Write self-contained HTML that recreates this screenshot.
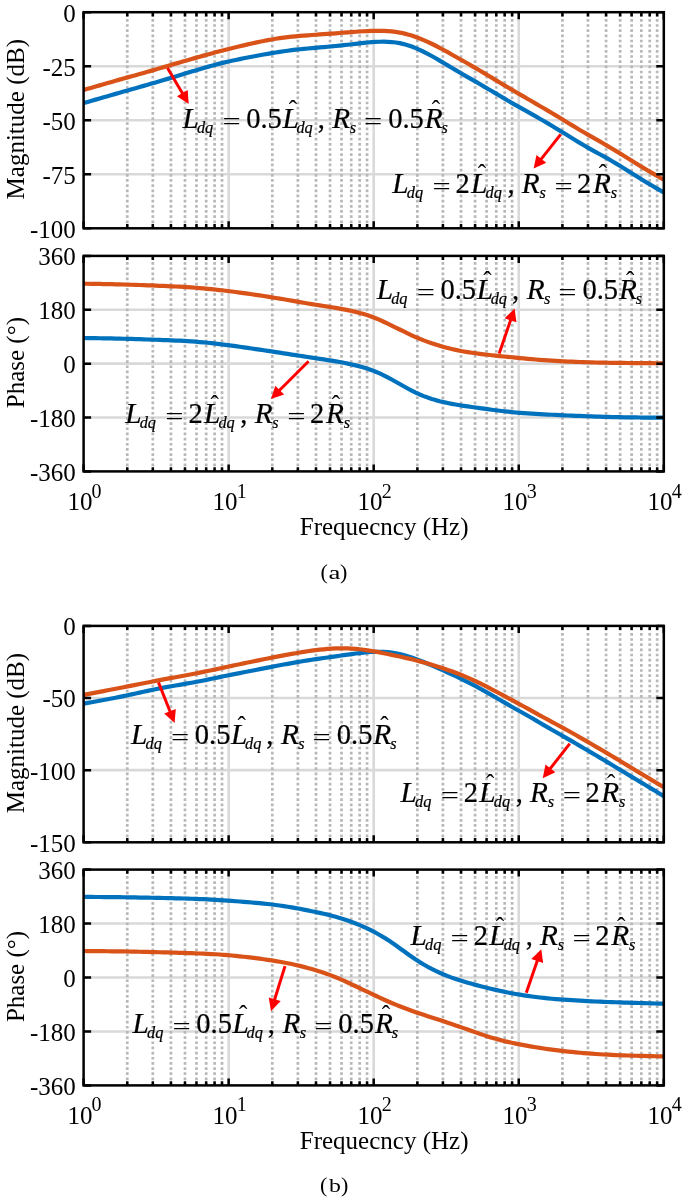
<!DOCTYPE html>
<html><head><meta charset="utf-8"><title>Bode plots</title>
<style>html,body{margin:0;padding:0;background:#fff;}body{width:685px;height:1201px;overflow:hidden;}svg{display:block;}</style>
</head><body>
<svg width="685" height="1201" viewBox="0 0 685 1201">
<rect width="685" height="1201" fill="#fff"/>
<path d="M228.65 12.20V228.30M373.70 12.20V228.30M518.75 12.20V228.30M83.60 66.23H663.80M83.60 120.25H663.80M83.60 174.28H663.80" stroke="#d9d9d9" stroke-width="2.60" fill="none"/>
<path d="M127.26 228.30V12.20M152.81 228.30V12.20M170.93 228.30V12.20M184.99 228.30V12.20M196.47 228.30V12.20M206.18 228.30V12.20M214.59 228.30V12.20M222.01 228.30V12.20M272.31 228.30V12.20M297.86 228.30V12.20M315.98 228.30V12.20M330.04 228.30V12.20M341.52 228.30V12.20M351.23 228.30V12.20M359.64 228.30V12.20M367.06 228.30V12.20M417.36 228.30V12.20M442.91 228.30V12.20M461.03 228.30V12.20M475.09 228.30V12.20M486.57 228.30V12.20M496.28 228.30V12.20M504.69 228.30V12.20M512.11 228.30V12.20M562.41 228.30V12.20M587.96 228.30V12.20M606.08 228.30V12.20M620.14 228.30V12.20M631.62 228.30V12.20M641.33 228.30V12.20M649.74 228.30V12.20M657.16 228.30V12.20" stroke="#b8b8b8" stroke-width="2.70" stroke-dasharray="2.7 2.465" stroke-dashoffset="0.00" fill="none"/>
<path d="M228.65 255.90V471.40M373.70 255.90V471.40M518.75 255.90V471.40M83.60 309.77H663.80M83.60 363.65H663.80M83.60 417.52H663.80" stroke="#d9d9d9" stroke-width="2.60" fill="none"/>
<path d="M127.26 471.40V255.90M152.81 471.40V255.90M170.93 471.40V255.90M184.99 471.40V255.90M196.47 471.40V255.90M206.18 471.40V255.90M214.59 471.40V255.90M222.01 471.40V255.90M272.31 471.40V255.90M297.86 471.40V255.90M315.98 471.40V255.90M330.04 471.40V255.90M341.52 471.40V255.90M351.23 471.40V255.90M359.64 471.40V255.90M367.06 471.40V255.90M417.36 471.40V255.90M442.91 471.40V255.90M461.03 471.40V255.90M475.09 471.40V255.90M486.57 471.40V255.90M496.28 471.40V255.90M504.69 471.40V255.90M512.11 471.40V255.90M562.41 471.40V255.90M587.96 471.40V255.90M606.08 471.40V255.90M620.14 471.40V255.90M631.62 471.40V255.90M641.33 471.40V255.90M649.74 471.40V255.90M657.16 471.40V255.90" stroke="#b8b8b8" stroke-width="2.70" stroke-dasharray="2.7 2.465" stroke-dashoffset="0.00" fill="none"/>
<path d="M228.65 625.90V842.30M373.70 625.90V842.30M518.75 625.90V842.30M83.60 698.03H663.80M83.60 770.17H663.80" stroke="#d9d9d9" stroke-width="2.60" fill="none"/>
<path d="M127.26 842.30V625.90M152.81 842.30V625.90M170.93 842.30V625.90M184.99 842.30V625.90M196.47 842.30V625.90M206.18 842.30V625.90M214.59 842.30V625.90M222.01 842.30V625.90M272.31 842.30V625.90M297.86 842.30V625.90M315.98 842.30V625.90M330.04 842.30V625.90M341.52 842.30V625.90M351.23 842.30V625.90M359.64 842.30V625.90M367.06 842.30V625.90M417.36 842.30V625.90M442.91 842.30V625.90M461.03 842.30V625.90M475.09 842.30V625.90M486.57 842.30V625.90M496.28 842.30V625.90M504.69 842.30V625.90M512.11 842.30V625.90M562.41 842.30V625.90M587.96 842.30V625.90M606.08 842.30V625.90M620.14 842.30V625.90M631.62 842.30V625.90M641.33 842.30V625.90M649.74 842.30V625.90M657.16 842.30V625.90" stroke="#b8b8b8" stroke-width="2.70" stroke-dasharray="2.7 2.465" stroke-dashoffset="0.00" fill="none"/>
<path d="M228.65 869.60V1085.40M373.70 869.60V1085.40M518.75 869.60V1085.40M83.60 923.55H663.80M83.60 977.50H663.80M83.60 1031.45H663.80" stroke="#d9d9d9" stroke-width="2.60" fill="none"/>
<path d="M127.26 1085.40V869.60M152.81 1085.40V869.60M170.93 1085.40V869.60M184.99 1085.40V869.60M196.47 1085.40V869.60M206.18 1085.40V869.60M214.59 1085.40V869.60M222.01 1085.40V869.60M272.31 1085.40V869.60M297.86 1085.40V869.60M315.98 1085.40V869.60M330.04 1085.40V869.60M341.52 1085.40V869.60M351.23 1085.40V869.60M359.64 1085.40V869.60M367.06 1085.40V869.60M417.36 1085.40V869.60M442.91 1085.40V869.60M461.03 1085.40V869.60M475.09 1085.40V869.60M486.57 1085.40V869.60M496.28 1085.40V869.60M504.69 1085.40V869.60M512.11 1085.40V869.60M562.41 1085.40V869.60M587.96 1085.40V869.60M606.08 1085.40V869.60M620.14 1085.40V869.60M631.62 1085.40V869.60M641.33 1085.40V869.60M649.74 1085.40V869.60M657.16 1085.40V869.60" stroke="#b8b8b8" stroke-width="2.70" stroke-dasharray="2.7 2.465" stroke-dashoffset="0.00" fill="none"/>
<g fill="none" stroke-width="4.20" stroke-linejoin="round">
<path d="M83.6 103.10 87.6 101.94 91.6 100.79 95.6 99.63 99.6 98.48 103.6 97.32 107.6 96.17 111.6 95.02 115.6 93.87 119.6 92.73 123.6 91.58 127.6 90.44 131.6 89.30 135.6 88.16 139.6 87.03 143.6 85.88 147.6 84.74 151.6 83.59 155.6 82.43 159.6 81.25 163.6 80.07 167.6 78.87 171.6 77.66 175.6 76.45 179.6 75.24 183.6 74.03 187.6 72.82 191.6 71.61 195.6 70.40 199.6 69.21 203.6 68.04 207.6 66.89 211.6 65.77 215.6 64.68 219.6 63.63 223.6 62.63 227.6 61.68 231.7 60.79 235.7 59.93 239.7 59.08 243.7 58.25 247.7 57.45 251.7 56.69 255.7 55.94 259.7 55.22 263.7 54.52 267.7 53.84 271.7 53.17 275.7 52.52 279.7 51.89 283.7 51.29 287.7 50.71 291.7 50.17 295.7 49.68 299.7 49.24 303.7 48.84 307.7 48.48 311.7 48.13 315.7 47.79 319.7 47.46 323.7 47.13 327.7 46.78 331.7 46.42 335.7 46.02 339.7 45.61 343.7 45.17 347.7 44.72 351.7 44.26 355.7 43.80 359.7 43.34 363.7 42.91 367.7 42.52 371.7 42.19 375.7 41.93 379.7 41.76 383.7 41.70 387.7 41.78 391.7 42.03 395.7 42.49 399.7 43.17 403.7 44.08 407.7 45.21 411.7 46.56 415.7 48.11 419.7 49.85 423.7 51.76 427.7 53.82 431.7 55.99 435.7 58.26 439.7 60.60 443.7 62.98 447.7 65.38 451.7 67.78 455.7 70.17 459.7 72.51 463.7 74.82 467.7 77.11 471.7 79.39 475.7 81.68 479.7 84.00 483.7 86.34 487.7 88.70 491.7 91.06 495.7 93.43 499.7 95.79 503.7 98.15 507.7 100.49 511.7 102.81 515.7 105.11 519.8 107.38 523.8 109.63 527.8 111.87 531.8 114.13 535.8 116.42 539.8 118.72 543.8 121.06 547.8 123.41 551.8 125.79 555.8 128.20 559.8 130.62 563.8 133.07 567.8 135.54 571.8 138.00 575.8 140.46 579.8 142.88 583.8 145.26 587.8 147.58 591.8 149.83 595.8 152.04 599.8 154.23 603.8 156.45 607.8 158.70 611.8 160.99 615.8 163.33 619.8 165.73 623.8 168.21 627.8 170.72 631.8 173.26 635.8 175.80 639.8 178.30 643.8 180.75 647.8 183.15 651.8 185.51 655.8 187.84 659.8 190.16 663.8 192.46" stroke="#0072BD"/>
<path d="M83.6 89.99 87.6 88.83 91.6 87.67 95.6 86.52 99.6 85.36 103.6 84.21 107.6 83.06 111.6 81.92 115.6 80.78 119.6 79.64 123.6 78.51 127.6 77.39 131.6 76.27 135.6 75.16 139.6 74.05 143.6 72.92 147.6 71.79 151.6 70.64 155.6 69.48 159.6 68.30 163.6 67.13 167.6 65.96 171.6 64.79 175.6 63.62 179.6 62.46 183.6 61.31 187.6 60.16 191.6 59.02 195.6 57.88 199.6 56.75 203.6 55.63 207.6 54.51 211.6 53.41 215.6 52.32 219.6 51.24 223.6 50.19 227.6 49.17 231.7 48.19 235.7 47.23 239.7 46.28 243.7 45.34 247.7 44.41 251.7 43.49 255.7 42.61 259.7 41.75 263.7 40.94 267.7 40.17 271.7 39.45 275.7 38.79 279.7 38.19 283.7 37.64 287.7 37.14 291.7 36.69 295.7 36.29 299.7 35.94 303.7 35.62 307.7 35.32 311.7 35.03 315.7 34.74 319.7 34.46 323.7 34.18 327.7 33.90 331.7 33.61 335.7 33.30 339.7 32.99 343.7 32.68 347.7 32.36 351.7 32.05 355.7 31.76 359.7 31.48 363.7 31.23 367.7 31.03 371.7 30.89 375.7 30.81 379.7 30.80 383.7 30.88 387.7 31.08 391.7 31.41 395.7 31.90 399.7 32.56 403.7 33.40 407.7 34.42 411.7 35.61 415.7 36.96 419.7 38.46 423.7 40.10 427.7 41.87 431.7 43.76 435.7 45.75 439.7 47.83 443.7 49.98 447.7 52.20 451.7 54.46 455.7 56.74 459.7 59.01 463.7 61.28 467.7 63.54 471.7 65.81 475.7 68.12 479.7 70.47 483.7 72.85 487.7 75.25 491.7 77.67 495.7 80.08 499.7 82.49 503.7 84.88 507.7 87.26 511.7 89.62 515.7 91.97 519.8 94.31 523.8 96.65 527.8 98.97 531.8 101.29 535.8 103.62 539.8 105.95 543.8 108.30 547.8 110.66 551.8 113.03 555.8 115.42 559.8 117.82 563.8 120.24 567.8 122.68 571.8 125.11 575.8 127.54 579.8 129.94 583.8 132.31 587.8 134.63 591.8 136.91 595.8 139.15 599.8 141.42 603.8 143.73 607.8 146.09 611.8 148.47 615.8 150.87 619.8 153.31 623.8 155.79 627.8 158.29 631.8 160.79 635.8 163.28 639.8 165.74 643.8 168.16 647.8 170.52 651.8 172.86 655.8 175.17 659.8 177.46 663.8 179.74" stroke="#D95319"/>
<path d="M83.6 337.99 87.6 338.05 91.6 338.11 95.6 338.17 99.6 338.24 103.6 338.31 107.6 338.38 111.6 338.46 115.6 338.54 119.6 338.63 123.6 338.73 127.6 338.84 131.6 338.95 135.6 339.07 139.6 339.20 143.6 339.34 147.6 339.48 151.6 339.62 155.6 339.77 159.6 339.92 163.6 340.07 167.6 340.22 171.6 340.38 175.6 340.54 179.6 340.72 183.6 340.93 187.6 341.16 191.6 341.42 195.6 341.71 199.6 342.04 203.6 342.39 207.6 342.78 211.6 343.19 215.6 343.64 219.6 344.10 223.6 344.59 227.6 345.10 231.7 345.63 235.7 346.18 239.7 346.75 243.7 347.32 247.7 347.89 251.7 348.47 255.7 349.06 259.7 349.65 263.7 350.24 267.7 350.84 271.7 351.45 275.7 352.06 279.7 352.68 283.7 353.30 287.7 353.93 291.7 354.55 295.7 355.17 299.7 355.78 303.7 356.39 307.7 357.00 311.7 357.61 315.7 358.22 319.7 358.82 323.7 359.43 327.7 360.05 331.7 360.68 335.7 361.35 339.7 362.05 343.7 362.80 347.7 363.60 351.7 364.45 355.7 365.38 359.7 366.40 363.7 367.52 367.7 368.77 371.7 370.16 375.7 371.71 379.7 373.42 383.7 375.30 387.7 377.34 391.7 379.50 395.7 381.74 399.7 384.02 403.7 386.29 407.7 388.50 411.7 390.63 415.7 392.63 419.7 394.46 423.7 396.11 427.7 397.59 431.7 398.92 435.7 400.11 439.7 401.18 443.7 402.15 447.7 403.02 451.7 403.82 455.7 404.54 459.7 405.20 463.7 405.81 467.7 406.40 471.7 406.96 475.7 407.51 479.7 408.08 483.7 408.64 487.7 409.20 491.7 409.74 495.7 410.27 499.7 410.77 503.7 411.25 507.7 411.70 511.7 412.11 515.7 412.49 519.8 412.84 523.8 413.14 527.8 413.42 531.8 413.67 535.8 413.91 539.8 414.14 543.8 414.35 547.8 414.56 551.8 414.77 555.8 414.96 559.8 415.14 563.8 415.31 567.8 415.48 571.8 415.63 575.8 415.78 579.8 415.93 583.8 416.08 587.8 416.23 591.8 416.38 595.8 416.53 599.8 416.68 603.8 416.81 607.8 416.92 611.8 417.03 615.8 417.12 619.8 417.21 623.8 417.28 627.8 417.35 631.8 417.41 635.8 417.46 639.8 417.51 643.8 417.55 647.8 417.59 651.8 417.62 655.8 417.65 659.8 417.68 663.8 417.71" stroke="#0072BD"/>
<path d="M83.6 283.69 87.6 283.76 91.6 283.83 95.6 283.90 99.6 283.97 103.6 284.05 107.6 284.13 111.6 284.22 115.6 284.31 119.6 284.41 123.6 284.51 127.6 284.62 131.6 284.74 135.6 284.87 139.6 285.00 143.6 285.15 147.6 285.30 151.6 285.46 155.6 285.63 159.6 285.80 163.6 285.97 167.6 286.14 171.6 286.32 175.6 286.50 179.6 286.70 183.6 286.93 187.6 287.18 191.6 287.45 195.6 287.76 199.6 288.08 203.6 288.44 207.6 288.81 211.6 289.21 215.6 289.62 219.6 290.06 223.6 290.52 227.6 291.01 231.7 291.51 235.7 292.03 239.7 292.56 243.7 293.11 247.7 293.67 251.7 294.24 255.7 294.83 259.7 295.43 263.7 296.04 267.7 296.67 271.7 297.31 275.7 297.96 279.7 298.62 283.7 299.29 287.7 299.97 291.7 300.66 295.7 301.36 299.7 302.06 303.7 302.77 307.7 303.46 311.7 304.14 315.7 304.79 319.7 305.41 323.7 306.02 327.7 306.63 331.7 307.26 335.7 307.91 339.7 308.60 343.7 309.34 347.7 310.13 351.7 310.98 355.7 311.91 359.7 312.93 363.7 314.06 367.7 315.31 371.7 316.70 375.7 318.25 379.7 319.94 383.7 321.75 387.7 323.63 391.7 325.56 395.7 327.52 399.7 329.50 403.7 331.48 407.7 333.41 411.7 335.29 415.7 337.09 419.7 338.79 423.7 340.38 427.7 341.86 431.7 343.25 435.7 344.54 439.7 345.76 443.7 346.90 447.7 347.96 451.7 348.95 455.7 349.86 459.7 350.69 463.7 351.44 467.7 352.10 471.7 352.71 475.7 353.27 479.7 353.80 483.7 354.30 487.7 354.77 491.7 355.22 495.7 355.65 499.7 356.07 503.7 356.48 507.7 356.87 511.7 357.27 515.7 357.65 519.8 358.04 523.8 358.42 527.8 358.80 531.8 359.16 535.8 359.51 539.8 359.83 543.8 360.13 547.8 360.41 551.8 360.67 555.8 360.92 559.8 361.14 563.8 361.35 567.8 361.53 571.8 361.71 575.8 361.86 579.8 362.01 583.8 362.14 587.8 362.27 591.8 362.39 595.8 362.50 599.8 362.60 603.8 362.68 607.8 362.75 611.8 362.80 615.8 362.86 619.8 362.91 623.8 362.95 627.8 363.00 631.8 363.04 635.8 363.08 639.8 363.11 643.8 363.15 647.8 363.18 651.8 363.21 655.8 363.24 659.8 363.27 663.8 363.30" stroke="#D95319"/>
<path d="M83.6 703.63 87.6 702.92 91.6 702.20 95.6 701.48 99.6 700.75 103.6 700.01 107.6 699.26 111.6 698.50 115.6 697.72 119.6 696.92 123.6 696.11 127.6 695.27 131.6 694.41 135.6 693.53 139.6 692.65 143.6 691.77 147.6 690.90 151.6 690.04 155.6 689.22 159.6 688.42 163.6 687.64 167.6 686.91 171.6 686.21 175.6 685.52 179.6 684.84 183.6 684.15 187.6 683.44 191.6 682.72 195.6 681.98 199.6 681.22 203.6 680.44 207.6 679.64 211.6 678.81 215.6 677.97 219.6 677.13 223.6 676.29 227.6 675.47 231.7 674.67 235.7 673.88 239.7 673.10 243.7 672.31 247.7 671.52 251.7 670.74 255.7 669.95 259.7 669.16 263.7 668.38 267.7 667.60 271.7 666.82 275.7 666.06 279.7 665.30 283.7 664.56 287.7 663.83 291.7 663.11 295.7 662.40 299.7 661.71 303.7 661.04 307.7 660.39 311.7 659.75 315.7 659.14 319.7 658.57 323.7 658.02 327.7 657.48 331.7 656.93 335.7 656.36 339.7 655.78 343.7 655.19 347.7 654.61 351.7 654.05 355.7 653.53 359.7 653.05 363.7 652.62 367.7 652.27 371.7 652.00 375.7 651.83 379.7 651.77 383.7 651.85 387.7 652.09 391.7 652.54 395.7 653.20 399.7 654.05 403.7 655.08 407.7 656.26 411.7 657.57 415.7 658.99 419.7 660.50 423.7 662.07 427.7 663.71 431.7 665.41 435.7 667.14 439.7 668.91 443.7 670.70 447.7 672.51 451.7 674.33 455.7 676.18 459.7 678.07 463.7 680.02 467.7 682.02 471.7 684.08 475.7 686.20 479.7 688.37 483.7 690.59 487.7 692.85 491.7 695.15 495.7 697.46 499.7 699.79 503.7 702.12 507.7 704.44 511.7 706.73 515.7 709.00 519.8 711.23 523.8 713.46 527.8 715.73 531.8 718.04 535.8 720.38 539.8 722.74 543.8 725.10 547.8 727.43 551.8 729.72 555.8 732.00 559.8 734.27 563.8 736.56 567.8 738.86 571.8 741.18 575.8 743.51 579.8 745.86 583.8 748.21 587.8 750.56 591.8 752.92 595.8 755.28 599.8 757.65 603.8 760.03 607.8 762.42 611.8 764.81 615.8 767.22 619.8 769.62 623.8 772.03 627.8 774.44 631.8 776.85 635.8 779.26 639.8 781.67 643.8 784.07 647.8 786.48 651.8 788.89 655.8 791.29 659.8 793.70 663.8 796.10" stroke="#0072BD"/>
<path d="M83.6 694.90 87.6 694.14 91.6 693.37 95.6 692.61 99.6 691.84 103.6 691.07 107.6 690.30 111.6 689.52 115.6 688.75 119.6 687.97 123.6 687.19 127.6 686.41 131.6 685.62 135.6 684.83 139.6 684.05 143.6 683.26 147.6 682.48 151.6 681.70 155.6 680.92 159.6 680.16 163.6 679.41 167.6 678.67 171.6 677.94 175.6 677.21 179.6 676.47 183.6 675.73 187.6 674.98 191.6 674.22 195.6 673.44 199.6 672.65 203.6 671.84 207.6 671.02 211.6 670.19 215.6 669.34 219.6 668.48 223.6 667.62 227.6 666.76 231.7 665.90 235.7 665.05 239.7 664.20 243.7 663.36 247.7 662.53 251.7 661.70 255.7 660.88 259.7 660.07 263.7 659.27 267.7 658.47 271.7 657.68 275.7 656.90 279.7 656.13 283.7 655.38 287.7 654.64 291.7 653.91 295.7 653.21 299.7 652.53 303.7 651.89 307.7 651.27 311.7 650.70 315.7 650.18 319.7 649.71 323.7 649.29 327.7 648.94 331.7 648.65 335.7 648.42 339.7 648.29 343.7 648.26 347.7 648.34 351.7 648.54 355.7 648.86 359.7 649.27 363.7 649.77 367.7 650.35 371.7 650.99 375.7 651.69 379.7 652.42 383.7 653.20 387.7 654.02 391.7 654.86 395.7 655.70 399.7 656.57 403.7 657.45 407.7 658.37 411.7 659.32 415.7 660.32 419.7 661.36 423.7 662.46 427.7 663.60 431.7 664.79 435.7 666.03 439.7 667.30 443.7 668.61 447.7 669.96 451.7 671.34 455.7 672.79 459.7 674.31 463.7 675.91 467.7 677.61 471.7 679.40 475.7 681.27 479.7 683.21 483.7 685.21 487.7 687.24 491.7 689.30 495.7 691.40 499.7 693.51 503.7 695.65 507.7 697.81 511.7 699.97 515.7 702.15 519.8 704.33 523.8 706.52 527.8 708.71 531.8 710.91 535.8 713.11 539.8 715.32 543.8 717.51 547.8 719.69 551.8 721.84 555.8 723.99 559.8 726.13 563.8 728.30 567.8 730.51 571.8 732.76 575.8 735.03 579.8 737.32 583.8 739.63 587.8 741.94 591.8 744.26 595.8 746.59 599.8 748.92 603.8 751.28 607.8 753.64 611.8 756.02 615.8 758.42 619.8 760.82 623.8 763.22 627.8 765.63 631.8 768.04 635.8 770.45 639.8 772.86 643.8 775.27 647.8 777.67 651.8 780.08 655.8 782.49 659.8 784.90 663.8 787.30" stroke="#D95319"/>
<path d="M83.6 896.89 87.6 896.92 91.6 896.95 95.6 896.98 99.6 897.01 103.6 897.05 107.6 897.08 111.6 897.12 115.6 897.17 119.6 897.21 123.6 897.27 127.6 897.32 131.6 897.39 135.6 897.45 139.6 897.53 143.6 897.60 147.6 897.68 151.6 897.76 155.6 897.85 159.6 897.93 163.6 898.02 167.6 898.10 171.6 898.19 175.6 898.28 179.6 898.38 183.6 898.48 187.6 898.60 191.6 898.73 195.6 898.88 199.6 899.04 203.6 899.22 207.6 899.42 211.6 899.63 215.6 899.86 219.6 900.11 223.6 900.37 227.6 900.65 231.7 900.93 235.7 901.22 239.7 901.52 243.7 901.83 247.7 902.15 251.7 902.48 255.7 902.82 259.7 903.19 263.7 903.59 267.7 904.02 271.7 904.48 275.7 904.98 279.7 905.51 283.7 906.09 287.7 906.71 291.7 907.37 295.7 908.06 299.7 908.80 303.7 909.58 307.7 910.38 311.7 911.20 315.7 912.03 319.7 912.87 323.7 913.74 327.7 914.67 331.7 915.68 335.7 916.78 339.7 917.97 343.7 919.24 347.7 920.60 351.7 922.04 355.7 923.55 359.7 925.16 363.7 926.87 367.7 928.69 371.7 930.64 375.7 932.73 379.7 934.96 383.7 937.33 387.7 939.86 391.7 942.53 395.7 945.31 399.7 948.17 403.7 951.07 407.7 953.95 411.7 956.78 415.7 959.50 419.7 962.09 423.7 964.52 427.7 966.79 431.7 968.92 435.7 970.91 439.7 972.77 443.7 974.51 447.7 976.12 451.7 977.63 455.7 979.03 459.7 980.35 463.7 981.58 467.7 982.74 471.7 983.84 475.7 984.90 479.7 985.95 483.7 986.98 487.7 987.98 491.7 988.96 495.7 989.89 499.7 990.79 503.7 991.65 507.7 992.46 511.7 993.24 515.7 993.97 519.8 994.66 523.8 995.31 527.8 995.92 531.8 996.49 535.8 997.02 539.8 997.51 543.8 997.96 547.8 998.37 551.8 998.75 555.8 999.09 559.8 999.41 563.8 999.70 567.8 999.97 571.8 1000.22 575.8 1000.46 579.8 1000.68 583.8 1000.90 587.8 1001.10 591.8 1001.30 595.8 1001.50 599.8 1001.68 603.8 1001.84 607.8 1001.99 611.8 1002.14 615.8 1002.27 619.8 1002.41 623.8 1002.53 627.8 1002.66 631.8 1002.78 635.8 1002.90 639.8 1003.02 643.8 1003.14 647.8 1003.25 651.8 1003.37 655.8 1003.48 659.8 1003.59 663.8 1003.70" stroke="#0072BD"/>
<path d="M83.6 950.99 87.6 951.03 91.6 951.07 95.6 951.10 99.6 951.14 103.6 951.19 107.6 951.23 111.6 951.28 115.6 951.34 119.6 951.39 123.6 951.46 127.6 951.52 131.6 951.60 135.6 951.68 139.6 951.76 143.6 951.85 147.6 951.95 151.6 952.04 155.6 952.14 159.6 952.24 163.6 952.35 167.6 952.46 171.6 952.57 175.6 952.69 179.6 952.80 183.6 952.93 187.6 953.06 191.6 953.19 195.6 953.33 199.6 953.49 203.6 953.65 207.6 953.84 211.6 954.04 215.6 954.26 219.6 954.51 223.6 954.80 227.6 955.12 231.7 955.48 235.7 955.87 239.7 956.29 243.7 956.73 247.7 957.19 251.7 957.67 255.7 958.18 259.7 958.70 263.7 959.25 267.7 959.83 271.7 960.44 275.7 961.08 279.7 961.76 283.7 962.47 287.7 963.24 291.7 964.06 295.7 964.93 299.7 965.88 303.7 966.88 307.7 967.96 311.7 969.08 315.7 970.26 319.7 971.49 323.7 972.77 327.7 974.15 331.7 975.63 335.7 977.23 339.7 978.92 343.7 980.69 347.7 982.51 351.7 984.37 355.7 986.25 359.7 988.14 363.7 990.04 367.7 991.94 371.7 993.85 375.7 995.75 379.7 997.64 383.7 999.49 387.7 1001.28 391.7 1003.00 395.7 1004.65 399.7 1006.25 403.7 1007.80 407.7 1009.29 411.7 1010.74 415.7 1012.15 419.7 1013.51 423.7 1014.85 427.7 1016.16 431.7 1017.46 435.7 1018.76 439.7 1020.05 443.7 1021.36 447.7 1022.69 451.7 1024.03 455.7 1025.39 459.7 1026.75 463.7 1028.12 467.7 1029.53 471.7 1030.96 475.7 1032.39 479.7 1033.78 483.7 1035.13 487.7 1036.42 491.7 1037.65 495.7 1038.81 499.7 1039.89 503.7 1040.91 507.7 1041.86 511.7 1042.75 515.7 1043.59 519.8 1044.39 523.8 1045.16 527.8 1045.89 531.8 1046.58 535.8 1047.24 539.8 1047.87 543.8 1048.48 547.8 1049.06 551.8 1049.61 555.8 1050.14 559.8 1050.64 563.8 1051.11 567.8 1051.55 571.8 1051.96 575.8 1052.35 579.8 1052.72 583.8 1053.06 587.8 1053.39 591.8 1053.70 595.8 1053.99 599.8 1054.26 603.8 1054.50 607.8 1054.71 611.8 1054.90 615.8 1055.08 619.8 1055.24 623.8 1055.39 627.8 1055.52 631.8 1055.65 635.8 1055.76 639.8 1055.87 643.8 1055.97 647.8 1056.07 651.8 1056.16 655.8 1056.25 659.8 1056.33 663.8 1056.42" stroke="#D95319"/>
</g>
<path d="M83.60 228.30v-7.00M83.60 12.20v7.00M228.65 228.30v-7.00M228.65 12.20v7.00M373.70 228.30v-7.00M373.70 12.20v7.00M518.75 228.30v-7.00M518.75 12.20v7.00M663.80 228.30v-7.00M663.80 12.20v7.00M127.26 228.30v-4.20M127.26 12.20v4.20M152.81 228.30v-4.20M152.81 12.20v4.20M170.93 228.30v-4.20M170.93 12.20v4.20M184.99 228.30v-4.20M184.99 12.20v4.20M196.47 228.30v-4.20M196.47 12.20v4.20M206.18 228.30v-4.20M206.18 12.20v4.20M214.59 228.30v-4.20M214.59 12.20v4.20M222.01 228.30v-4.20M222.01 12.20v4.20M272.31 228.30v-4.20M272.31 12.20v4.20M297.86 228.30v-4.20M297.86 12.20v4.20M315.98 228.30v-4.20M315.98 12.20v4.20M330.04 228.30v-4.20M330.04 12.20v4.20M341.52 228.30v-4.20M341.52 12.20v4.20M351.23 228.30v-4.20M351.23 12.20v4.20M359.64 228.30v-4.20M359.64 12.20v4.20M367.06 228.30v-4.20M367.06 12.20v4.20M417.36 228.30v-4.20M417.36 12.20v4.20M442.91 228.30v-4.20M442.91 12.20v4.20M461.03 228.30v-4.20M461.03 12.20v4.20M475.09 228.30v-4.20M475.09 12.20v4.20M486.57 228.30v-4.20M486.57 12.20v4.20M496.28 228.30v-4.20M496.28 12.20v4.20M504.69 228.30v-4.20M504.69 12.20v4.20M512.11 228.30v-4.20M512.11 12.20v4.20M562.41 228.30v-4.20M562.41 12.20v4.20M587.96 228.30v-4.20M587.96 12.20v4.20M606.08 228.30v-4.20M606.08 12.20v4.20M620.14 228.30v-4.20M620.14 12.20v4.20M631.62 228.30v-4.20M631.62 12.20v4.20M641.33 228.30v-4.20M641.33 12.20v4.20M649.74 228.30v-4.20M649.74 12.20v4.20M657.16 228.30v-4.20M657.16 12.20v4.20M83.60 12.20h7.50M663.80 12.20h-7.50M83.60 66.23h7.50M663.80 66.23h-7.50M83.60 120.25h7.50M663.80 120.25h-7.50M83.60 174.28h7.50M663.80 174.28h-7.50M83.60 228.30h7.50M663.80 228.30h-7.50" stroke="#000" stroke-width="2.50" fill="none"/>
<rect x="83.60" y="12.20" width="580.20" height="216.10" fill="none" stroke="#000" stroke-width="2.50"/>
<path d="M83.60 471.40v-7.00M83.60 255.90v7.00M228.65 471.40v-7.00M228.65 255.90v7.00M373.70 471.40v-7.00M373.70 255.90v7.00M518.75 471.40v-7.00M518.75 255.90v7.00M663.80 471.40v-7.00M663.80 255.90v7.00M127.26 471.40v-4.20M127.26 255.90v4.20M152.81 471.40v-4.20M152.81 255.90v4.20M170.93 471.40v-4.20M170.93 255.90v4.20M184.99 471.40v-4.20M184.99 255.90v4.20M196.47 471.40v-4.20M196.47 255.90v4.20M206.18 471.40v-4.20M206.18 255.90v4.20M214.59 471.40v-4.20M214.59 255.90v4.20M222.01 471.40v-4.20M222.01 255.90v4.20M272.31 471.40v-4.20M272.31 255.90v4.20M297.86 471.40v-4.20M297.86 255.90v4.20M315.98 471.40v-4.20M315.98 255.90v4.20M330.04 471.40v-4.20M330.04 255.90v4.20M341.52 471.40v-4.20M341.52 255.90v4.20M351.23 471.40v-4.20M351.23 255.90v4.20M359.64 471.40v-4.20M359.64 255.90v4.20M367.06 471.40v-4.20M367.06 255.90v4.20M417.36 471.40v-4.20M417.36 255.90v4.20M442.91 471.40v-4.20M442.91 255.90v4.20M461.03 471.40v-4.20M461.03 255.90v4.20M475.09 471.40v-4.20M475.09 255.90v4.20M486.57 471.40v-4.20M486.57 255.90v4.20M496.28 471.40v-4.20M496.28 255.90v4.20M504.69 471.40v-4.20M504.69 255.90v4.20M512.11 471.40v-4.20M512.11 255.90v4.20M562.41 471.40v-4.20M562.41 255.90v4.20M587.96 471.40v-4.20M587.96 255.90v4.20M606.08 471.40v-4.20M606.08 255.90v4.20M620.14 471.40v-4.20M620.14 255.90v4.20M631.62 471.40v-4.20M631.62 255.90v4.20M641.33 471.40v-4.20M641.33 255.90v4.20M649.74 471.40v-4.20M649.74 255.90v4.20M657.16 471.40v-4.20M657.16 255.90v4.20M83.60 255.90h7.50M663.80 255.90h-7.50M83.60 309.77h7.50M663.80 309.77h-7.50M83.60 363.65h7.50M663.80 363.65h-7.50M83.60 417.52h7.50M663.80 417.52h-7.50M83.60 471.40h7.50M663.80 471.40h-7.50" stroke="#000" stroke-width="2.50" fill="none"/>
<rect x="83.60" y="255.90" width="580.20" height="215.50" fill="none" stroke="#000" stroke-width="2.50"/>
<path d="M83.60 842.30v-7.00M83.60 625.90v7.00M228.65 842.30v-7.00M228.65 625.90v7.00M373.70 842.30v-7.00M373.70 625.90v7.00M518.75 842.30v-7.00M518.75 625.90v7.00M663.80 842.30v-7.00M663.80 625.90v7.00M127.26 842.30v-4.20M127.26 625.90v4.20M152.81 842.30v-4.20M152.81 625.90v4.20M170.93 842.30v-4.20M170.93 625.90v4.20M184.99 842.30v-4.20M184.99 625.90v4.20M196.47 842.30v-4.20M196.47 625.90v4.20M206.18 842.30v-4.20M206.18 625.90v4.20M214.59 842.30v-4.20M214.59 625.90v4.20M222.01 842.30v-4.20M222.01 625.90v4.20M272.31 842.30v-4.20M272.31 625.90v4.20M297.86 842.30v-4.20M297.86 625.90v4.20M315.98 842.30v-4.20M315.98 625.90v4.20M330.04 842.30v-4.20M330.04 625.90v4.20M341.52 842.30v-4.20M341.52 625.90v4.20M351.23 842.30v-4.20M351.23 625.90v4.20M359.64 842.30v-4.20M359.64 625.90v4.20M367.06 842.30v-4.20M367.06 625.90v4.20M417.36 842.30v-4.20M417.36 625.90v4.20M442.91 842.30v-4.20M442.91 625.90v4.20M461.03 842.30v-4.20M461.03 625.90v4.20M475.09 842.30v-4.20M475.09 625.90v4.20M486.57 842.30v-4.20M486.57 625.90v4.20M496.28 842.30v-4.20M496.28 625.90v4.20M504.69 842.30v-4.20M504.69 625.90v4.20M512.11 842.30v-4.20M512.11 625.90v4.20M562.41 842.30v-4.20M562.41 625.90v4.20M587.96 842.30v-4.20M587.96 625.90v4.20M606.08 842.30v-4.20M606.08 625.90v4.20M620.14 842.30v-4.20M620.14 625.90v4.20M631.62 842.30v-4.20M631.62 625.90v4.20M641.33 842.30v-4.20M641.33 625.90v4.20M649.74 842.30v-4.20M649.74 625.90v4.20M657.16 842.30v-4.20M657.16 625.90v4.20M83.60 625.90h7.50M663.80 625.90h-7.50M83.60 698.03h7.50M663.80 698.03h-7.50M83.60 770.17h7.50M663.80 770.17h-7.50M83.60 842.30h7.50M663.80 842.30h-7.50" stroke="#000" stroke-width="2.50" fill="none"/>
<rect x="83.60" y="625.90" width="580.20" height="216.40" fill="none" stroke="#000" stroke-width="2.50"/>
<path d="M83.60 1085.40v-7.00M83.60 869.60v7.00M228.65 1085.40v-7.00M228.65 869.60v7.00M373.70 1085.40v-7.00M373.70 869.60v7.00M518.75 1085.40v-7.00M518.75 869.60v7.00M663.80 1085.40v-7.00M663.80 869.60v7.00M127.26 1085.40v-4.20M127.26 869.60v4.20M152.81 1085.40v-4.20M152.81 869.60v4.20M170.93 1085.40v-4.20M170.93 869.60v4.20M184.99 1085.40v-4.20M184.99 869.60v4.20M196.47 1085.40v-4.20M196.47 869.60v4.20M206.18 1085.40v-4.20M206.18 869.60v4.20M214.59 1085.40v-4.20M214.59 869.60v4.20M222.01 1085.40v-4.20M222.01 869.60v4.20M272.31 1085.40v-4.20M272.31 869.60v4.20M297.86 1085.40v-4.20M297.86 869.60v4.20M315.98 1085.40v-4.20M315.98 869.60v4.20M330.04 1085.40v-4.20M330.04 869.60v4.20M341.52 1085.40v-4.20M341.52 869.60v4.20M351.23 1085.40v-4.20M351.23 869.60v4.20M359.64 1085.40v-4.20M359.64 869.60v4.20M367.06 1085.40v-4.20M367.06 869.60v4.20M417.36 1085.40v-4.20M417.36 869.60v4.20M442.91 1085.40v-4.20M442.91 869.60v4.20M461.03 1085.40v-4.20M461.03 869.60v4.20M475.09 1085.40v-4.20M475.09 869.60v4.20M486.57 1085.40v-4.20M486.57 869.60v4.20M496.28 1085.40v-4.20M496.28 869.60v4.20M504.69 1085.40v-4.20M504.69 869.60v4.20M512.11 1085.40v-4.20M512.11 869.60v4.20M562.41 1085.40v-4.20M562.41 869.60v4.20M587.96 1085.40v-4.20M587.96 869.60v4.20M606.08 1085.40v-4.20M606.08 869.60v4.20M620.14 1085.40v-4.20M620.14 869.60v4.20M631.62 1085.40v-4.20M631.62 869.60v4.20M641.33 1085.40v-4.20M641.33 869.60v4.20M649.74 1085.40v-4.20M649.74 869.60v4.20M657.16 1085.40v-4.20M657.16 869.60v4.20M83.60 869.60h7.50M663.80 869.60h-7.50M83.60 923.55h7.50M663.80 923.55h-7.50M83.60 977.50h7.50M663.80 977.50h-7.50M83.60 1031.45h7.50M663.80 1031.45h-7.50M83.60 1085.40h7.50M663.80 1085.40h-7.50" stroke="#000" stroke-width="2.50" fill="none"/>
<rect x="83.60" y="869.60" width="580.20" height="215.80" fill="none" stroke="#000" stroke-width="2.50"/>
<g font-family="Liberation Serif, Times New Roman, serif" font-size="25.00" fill="#000">
<text x="75.80" y="21.65" text-anchor="end">0</text>
<text x="75.80" y="75.68" text-anchor="end">-25</text>
<text x="75.80" y="129.70" text-anchor="end">-50</text>
<text x="75.80" y="183.72" text-anchor="end">-75</text>
<text x="75.80" y="237.75" text-anchor="end">-100</text>
<text x="75.80" y="265.35" text-anchor="end">360</text>
<text x="75.80" y="319.22" text-anchor="end">180</text>
<text x="75.80" y="373.10" text-anchor="end">0</text>
<text x="75.80" y="426.97" text-anchor="end">-180</text>
<text x="75.80" y="480.85" text-anchor="end">-360</text>
<text x="75.80" y="635.35" text-anchor="end">0</text>
<text x="75.80" y="707.48" text-anchor="end">-50</text>
<text x="75.80" y="779.62" text-anchor="end">-100</text>
<text x="75.80" y="851.75" text-anchor="end">-150</text>
<text x="75.80" y="879.05" text-anchor="end">360</text>
<text x="75.80" y="933.00" text-anchor="end">180</text>
<text x="75.80" y="986.95" text-anchor="end">0</text>
<text x="75.80" y="1040.90" text-anchor="end">-180</text>
<text x="75.80" y="1094.85" text-anchor="end">-360</text>
<text x="84.50" y="510.20" text-anchor="middle">10<tspan dx="-0.8" dy="-12.5" font-size="20">0</tspan></text>
<text x="229.55" y="510.20" text-anchor="middle">10<tspan dx="-0.8" dy="-12.5" font-size="20">1</tspan></text>
<text x="374.60" y="510.20" text-anchor="middle">10<tspan dx="-0.8" dy="-12.5" font-size="20">2</tspan></text>
<text x="519.65" y="510.20" text-anchor="middle">10<tspan dx="-0.8" dy="-12.5" font-size="20">3</tspan></text>
<text x="664.70" y="510.20" text-anchor="middle">10<tspan dx="-0.8" dy="-12.5" font-size="20">4</tspan></text>
<text x="84.50" y="1123.90" text-anchor="middle">10<tspan dx="-0.8" dy="-12.5" font-size="20">0</tspan></text>
<text x="229.55" y="1123.90" text-anchor="middle">10<tspan dx="-0.8" dy="-12.5" font-size="20">1</tspan></text>
<text x="374.60" y="1123.90" text-anchor="middle">10<tspan dx="-0.8" dy="-12.5" font-size="20">2</tspan></text>
<text x="519.65" y="1123.90" text-anchor="middle">10<tspan dx="-0.8" dy="-12.5" font-size="20">3</tspan></text>
<text x="664.70" y="1123.90" text-anchor="middle">10<tspan dx="-0.8" dy="-12.5" font-size="20">4</tspan></text>
</g>
<g font-family="Liberation Serif, Times New Roman, serif" font-size="25.00" fill="#000">
<text x="299.8" y="534.9">Frequecncy (Hz)</text>
<text x="299.8" y="1148.6">Frequecncy (Hz)</text>
<text transform="translate(24.2 119.25) rotate(-90)" text-anchor="middle">Magnitude (dB)</text>
<text transform="translate(24.2 362.65) rotate(-90)" text-anchor="middle">Phase (°)</text>
<text transform="translate(24.2 733.10) rotate(-90)" text-anchor="middle">Magnitude (dB)</text>
<text transform="translate(24.2 976.50) rotate(-90)" text-anchor="middle">Phase (°)</text>
<text x="320.51" y="579.30" font-size="22">(</text>
<text transform="translate(328.46 579.30) scale(1.220 0.850)" font-size="22">a</text>
<text x="340.04" y="579.30" font-size="22">)</text>
<text x="320.01" y="1192.30" font-size="22">(</text>
<text transform="translate(328.90 1192.30) scale(1.080 0.900)" font-size="22">b</text>
<text x="341.04" y="1192.30" font-size="22">)</text>
</g>
<g font-family="Liberation Serif, Times New Roman, serif" fill="#000" stroke="#000" stroke-width="0.22">
<text x="182.39" y="128.20" font-style="italic" font-size="29.30">L</text>
<text x="196.91" y="132.90" font-style="italic" font-size="16.30">dq</text>
<text transform="translate(224.00 130.05) scale(1.270 1)" x="-1.28" y="0" font-size="25.50" stroke="none">=</text>
<text x="246.16" y="128.20" font-size="28.50">0.5</text>
<text x="282.39" y="128.20" font-style="italic" font-size="29.30">L</text>
<text x="288.85" y="117.77" font-size="25.00" stroke="none">ˆ</text>
<text x="296.41" y="132.90" font-style="italic" font-size="16.30">dq</text>
<text x="317.66" y="128.20" font-size="28.50">,</text>
<text x="332.35" y="128.20" font-style="italic" font-size="29.30">R</text>
<text x="349.63" y="132.90" font-style="italic" font-size="16.30">s</text>
<text transform="translate(365.60 130.05) scale(1.270 1)" x="-1.28" y="0" font-size="25.50" stroke="none">=</text>
<text x="388.16" y="128.20" font-size="28.50">0.5</text>
<text x="424.75" y="128.20" font-style="italic" font-size="29.30">R</text>
<text x="431.65" y="117.77" font-size="25.00" stroke="none">ˆ</text>
<text x="441.53" y="132.90" font-style="italic" font-size="16.30">s</text>
<text x="392.29" y="192.80" font-style="italic" font-size="29.30">L</text>
<text x="406.81" y="197.50" font-style="italic" font-size="16.30">dq</text>
<text transform="translate(434.00 194.65) scale(1.270 1)" x="-1.28" y="0" font-size="25.50" stroke="none">=</text>
<text x="455.52" y="192.80" font-size="28.50">2</text>
<text x="470.99" y="192.80" font-style="italic" font-size="29.30">L</text>
<text x="477.65" y="182.38" font-size="25.00" stroke="none">ˆ</text>
<text x="485.51" y="197.50" font-style="italic" font-size="16.30">dq</text>
<text x="507.46" y="192.80" font-size="28.50">,</text>
<text x="521.75" y="192.80" font-style="italic" font-size="29.30">R</text>
<text x="539.43" y="197.50" font-style="italic" font-size="16.30">s</text>
<text transform="translate(556.00 194.65) scale(1.270 1)" x="-1.28" y="0" font-size="25.50" stroke="none">=</text>
<text x="577.12" y="192.80" font-size="28.50">2</text>
<text x="593.05" y="192.80" font-style="italic" font-size="29.30">R</text>
<text x="598.75" y="182.38" font-size="25.00" stroke="none">ˆ</text>
<text x="610.73" y="197.50" font-style="italic" font-size="16.30">s</text>
<text x="376.69" y="299.20" font-style="italic" font-size="29.30">L</text>
<text x="391.21" y="303.90" font-style="italic" font-size="16.30">dq</text>
<text transform="translate(418.30 301.05) scale(1.270 1)" x="-1.28" y="0" font-size="25.50" stroke="none">=</text>
<text x="440.46" y="299.20" font-size="28.50">0.5</text>
<text x="476.69" y="299.20" font-style="italic" font-size="29.30">L</text>
<text x="483.15" y="288.77" font-size="25.00" stroke="none">ˆ</text>
<text x="490.71" y="303.90" font-style="italic" font-size="16.30">dq</text>
<text x="511.96" y="299.20" font-size="28.50">,</text>
<text x="526.65" y="299.20" font-style="italic" font-size="29.30">R</text>
<text x="543.93" y="303.90" font-style="italic" font-size="16.30">s</text>
<text transform="translate(559.90 301.05) scale(1.270 1)" x="-1.28" y="0" font-size="25.50" stroke="none">=</text>
<text x="582.46" y="299.20" font-size="28.50">0.5</text>
<text x="619.05" y="299.20" font-style="italic" font-size="29.30">R</text>
<text x="625.95" y="288.77" font-size="25.00" stroke="none">ˆ</text>
<text x="635.83" y="303.90" font-style="italic" font-size="16.30">s</text>
<text x="125.19" y="423.40" font-style="italic" font-size="29.30">L</text>
<text x="139.71" y="428.10" font-style="italic" font-size="16.30">dq</text>
<text transform="translate(166.90 425.25) scale(1.270 1)" x="-1.28" y="0" font-size="25.50" stroke="none">=</text>
<text x="188.42" y="423.40" font-size="28.50">2</text>
<text x="203.89" y="423.40" font-style="italic" font-size="29.30">L</text>
<text x="210.55" y="412.97" font-size="25.00" stroke="none">ˆ</text>
<text x="218.41" y="428.10" font-style="italic" font-size="16.30">dq</text>
<text x="240.36" y="423.40" font-size="28.50">,</text>
<text x="254.65" y="423.40" font-style="italic" font-size="29.30">R</text>
<text x="272.33" y="428.10" font-style="italic" font-size="16.30">s</text>
<text transform="translate(288.90 425.25) scale(1.270 1)" x="-1.28" y="0" font-size="25.50" stroke="none">=</text>
<text x="310.02" y="423.40" font-size="28.50">2</text>
<text x="325.95" y="423.40" font-style="italic" font-size="29.30">R</text>
<text x="331.65" y="412.97" font-size="25.00" stroke="none">ˆ</text>
<text x="343.63" y="428.10" font-style="italic" font-size="16.30">s</text>
<text x="130.99" y="744.00" font-style="italic" font-size="29.30">L</text>
<text x="145.51" y="748.70" font-style="italic" font-size="16.30">dq</text>
<text transform="translate(172.60 745.85) scale(1.270 1)" x="-1.28" y="0" font-size="25.50" stroke="none">=</text>
<text x="194.76" y="744.00" font-size="28.50">0.5</text>
<text x="230.99" y="744.00" font-style="italic" font-size="29.30">L</text>
<text x="237.45" y="733.58" font-size="25.00" stroke="none">ˆ</text>
<text x="245.01" y="748.70" font-style="italic" font-size="16.30">dq</text>
<text x="266.26" y="744.00" font-size="28.50">,</text>
<text x="280.95" y="744.00" font-style="italic" font-size="29.30">R</text>
<text x="298.23" y="748.70" font-style="italic" font-size="16.30">s</text>
<text transform="translate(314.20 745.85) scale(1.270 1)" x="-1.28" y="0" font-size="25.50" stroke="none">=</text>
<text x="336.76" y="744.00" font-size="28.50">0.5</text>
<text x="373.35" y="744.00" font-style="italic" font-size="29.30">R</text>
<text x="380.25" y="733.58" font-size="25.00" stroke="none">ˆ</text>
<text x="390.13" y="748.70" font-style="italic" font-size="16.30">s</text>
<text x="400.59" y="802.10" font-style="italic" font-size="29.30">L</text>
<text x="415.11" y="806.80" font-style="italic" font-size="16.30">dq</text>
<text transform="translate(442.30 803.95) scale(1.270 1)" x="-1.28" y="0" font-size="25.50" stroke="none">=</text>
<text x="463.82" y="802.10" font-size="28.50">2</text>
<text x="479.29" y="802.10" font-style="italic" font-size="29.30">L</text>
<text x="485.95" y="791.68" font-size="25.00" stroke="none">ˆ</text>
<text x="493.81" y="806.80" font-style="italic" font-size="16.30">dq</text>
<text x="515.76" y="802.10" font-size="28.50">,</text>
<text x="530.05" y="802.10" font-style="italic" font-size="29.30">R</text>
<text x="547.73" y="806.80" font-style="italic" font-size="16.30">s</text>
<text transform="translate(564.30 803.95) scale(1.270 1)" x="-1.28" y="0" font-size="25.50" stroke="none">=</text>
<text x="585.42" y="802.10" font-size="28.50">2</text>
<text x="601.35" y="802.10" font-style="italic" font-size="29.30">R</text>
<text x="607.05" y="791.68" font-size="25.00" stroke="none">ˆ</text>
<text x="619.03" y="806.80" font-style="italic" font-size="16.30">s</text>
<text x="410.49" y="945.20" font-style="italic" font-size="29.30">L</text>
<text x="425.01" y="949.90" font-style="italic" font-size="16.30">dq</text>
<text transform="translate(452.20 947.05) scale(1.270 1)" x="-1.28" y="0" font-size="25.50" stroke="none">=</text>
<text x="473.72" y="945.20" font-size="28.50">2</text>
<text x="489.19" y="945.20" font-style="italic" font-size="29.30">L</text>
<text x="495.85" y="934.78" font-size="25.00" stroke="none">ˆ</text>
<text x="503.71" y="949.90" font-style="italic" font-size="16.30">dq</text>
<text x="525.66" y="945.20" font-size="28.50">,</text>
<text x="539.95" y="945.20" font-style="italic" font-size="29.30">R</text>
<text x="557.63" y="949.90" font-style="italic" font-size="16.30">s</text>
<text transform="translate(574.20 947.05) scale(1.270 1)" x="-1.28" y="0" font-size="25.50" stroke="none">=</text>
<text x="595.32" y="945.20" font-size="28.50">2</text>
<text x="611.25" y="945.20" font-style="italic" font-size="29.30">R</text>
<text x="616.95" y="934.78" font-size="25.00" stroke="none">ˆ</text>
<text x="628.93" y="949.90" font-style="italic" font-size="16.30">s</text>
<text x="132.59" y="1033.00" font-style="italic" font-size="29.30">L</text>
<text x="147.11" y="1037.70" font-style="italic" font-size="16.30">dq</text>
<text transform="translate(174.20 1034.85) scale(1.270 1)" x="-1.28" y="0" font-size="25.50" stroke="none">=</text>
<text x="196.36" y="1033.00" font-size="28.50">0.5</text>
<text x="232.59" y="1033.00" font-style="italic" font-size="29.30">L</text>
<text x="239.05" y="1022.58" font-size="25.00" stroke="none">ˆ</text>
<text x="246.61" y="1037.70" font-style="italic" font-size="16.30">dq</text>
<text x="267.86" y="1033.00" font-size="28.50">,</text>
<text x="282.55" y="1033.00" font-style="italic" font-size="29.30">R</text>
<text x="299.83" y="1037.70" font-style="italic" font-size="16.30">s</text>
<text transform="translate(315.80 1034.85) scale(1.270 1)" x="-1.28" y="0" font-size="25.50" stroke="none">=</text>
<text x="338.36" y="1033.00" font-size="28.50">0.5</text>
<text x="374.95" y="1033.00" font-style="italic" font-size="29.30">R</text>
<text x="381.85" y="1022.58" font-size="25.00" stroke="none">ˆ</text>
<text x="391.73" y="1037.70" font-style="italic" font-size="16.30">s</text>
</g>
<path d="M167.50 68.10L182.84 94.00" stroke="#FF0000" stroke-width="3.00" fill="none"/>
<path d="M188.70 103.90L176.95 96.33L187.71 89.96Z" fill="#FF0000"/>
<path d="M560.70 134.40L540.74 159.59" stroke="#FF0000" stroke-width="3.00" fill="none"/>
<path d="M533.60 168.60L536.46 154.92L546.26 162.68Z" fill="#FF0000"/>
<path d="M499.20 353.40L510.87 319.38" stroke="#FF0000" stroke-width="3.00" fill="none"/>
<path d="M514.60 308.50L516.46 322.35L504.63 318.30Z" fill="#FF0000"/>
<path d="M308.60 361.20L279.03 390.77" stroke="#FF0000" stroke-width="3.00" fill="none"/>
<path d="M270.90 398.90L275.32 385.64L284.16 394.48Z" fill="#FF0000"/>
<path d="M158.50 682.40L170.35 712.21" stroke="#FF0000" stroke-width="3.00" fill="none"/>
<path d="M174.60 722.90L164.17 713.59L175.79 708.98Z" fill="#FF0000"/>
<path d="M569.80 743.60L549.79 769.15" stroke="#FF0000" stroke-width="3.00" fill="none"/>
<path d="M542.70 778.20L545.49 764.51L555.33 772.21Z" fill="#FF0000"/>
<path d="M526.30 992.70L537.55 960.07" stroke="#FF0000" stroke-width="3.00" fill="none"/>
<path d="M541.30 949.20L543.13 963.05L531.32 958.98Z" fill="#FF0000"/>
<path d="M285.00 966.10L274.41 1000.22" stroke="#FF0000" stroke-width="3.00" fill="none"/>
<path d="M271.00 1011.20L268.74 997.41L280.67 1001.11Z" fill="#FF0000"/>
</svg>
</body></html>
